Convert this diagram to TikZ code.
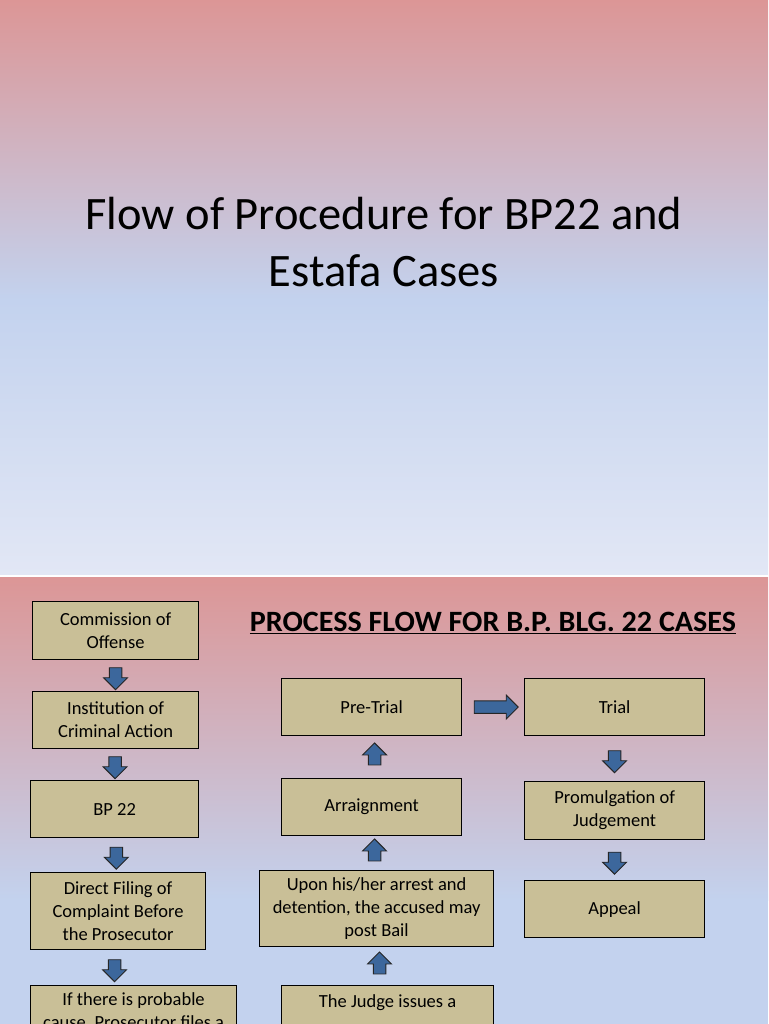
\documentclass[tikz,border=0pt]{standalone}
\usepackage{fontspec}
\setmainfont{Carlito}
\usetikzlibrary{shapes.arrows,calc}
\definecolor{boxfill}{HTML}{C9BF97}
\definecolor{arrfill}{HTML}{3C679C}
\definecolor{pinktop}{HTML}{DC9696}
\definecolor{bluemid}{HTML}{C3D2EE}
\definecolor{bluelow}{HTML}{E2E7F5}
\tikzset{
	box/.style={draw, line width=1.2pt, fill=boxfill, align=center, inner sep=0pt, font=\fontsize{18.5}{23}\selectfont},
	barr/.style={single arrow, draw=black!85, line width=0.9pt, fill=arrfill, minimum height=22pt, minimum width=24pt, single arrow head extend=5.5pt, inner sep=5.5pt},
}
\newcommand{\boxat}[6]{
	\node [box, minimum width=#4pt, minimum height=#5pt, anchor=north west] (#1) at (#2,#3) {#6};}
\begin{document}
\begin{tikzpicture}[x=1pt,y=-1pt]
	\useasboundingbox (0,0) rectangle (768,1024);
	\shade [top color=pinktop, bottom color=bluemid] (0,0) rectangle (768,300);
	\shade [top color=bluemid, bottom color=bluelow] (0,300) rectangle (768,575);
	\fill [white] (0,575) rectangle (768,577);
	\shade [top color=pinktop, bottom color=bluemid] (0,577) rectangle (768,900);
	\fill [bluemid] (0,900) rectangle (768,1024);
	\node [align=center, font=\fontsize{46.5}{57}\selectfont] (title) at (384,242) {Flow of Procedure for BP22 and\\Estafa Cases};
	\node [font=\fontsize{29.5}{30}\bfseries\selectfont, xscale=1.02] (head) at (493,623) {\underline{PROCESS FLOW FOR B.P. BLG. 22 CASES}};
	% left column
	\boxat{s1}{32}{601}{166}{58}{Commission of\\Offense}
	\boxat{s2}{32}{691}{166}{57}{Institution of\\Criminal Action}
	\boxat{s3}{30}{780}{168}{57}{BP 22}
	\boxat{s4}{30}{872}{175}{77}{Direct Filing of\\Complaint Before\\the Prosecutor}
	\node [box, minimum width=206pt, anchor=north west, inner ysep=7pt] (s5) at (30,985) {If there is probable\\cause, Prosecutor files a\\[30pt]};
	% middle column
	\boxat{s6}{281}{678}{180}{57}{Pre-Trial}
	\boxat{s7}{281}{778}{180}{57}{Arraignment}
	\boxat{s8}{259}{870}{234}{76}{Upon his/her arrest and\\detention, the accused may\\post Bail}
	\node [box, minimum width=212pt, anchor=north west, inner ysep=9pt] (s9) at (281,985) {The Judge issues a\\[40pt]};
	% right column
	\boxat{s10}{524}{678}{180}{57}{Trial}
	\boxat{s11}{524}{781}{180}{58}{Promulgation of\\Judgement}
	\boxat{s12}{524}{880}{180}{57}{Appeal}
	% block arrows
	\foreach \a/\b in {s1/s2,s2/s3,s3/s4,s10/s11,s11/s12}
		\node [barr, rotate=-90] (d\a) at ($(\a.south)!0.5!(\b.north)$) {};
	\node [barr, rotate=-90] (ds4) at ($(s4.south -| s3.south)!0.5!(s5.north -| s3.south)$) {};
	\foreach \a/\b in {s9/s8,s8/s7,s7/s6}
		\node [barr, rotate=90] (u\a) at ($(\b.south)!0.5!(\b.south |- \a.north) + (3,0)$) {};
	\node [barr, minimum height=44pt] (rs6) at ($(s6.east)!0.5!(s10.west)$) {};
\end{tikzpicture}
\end{document}
